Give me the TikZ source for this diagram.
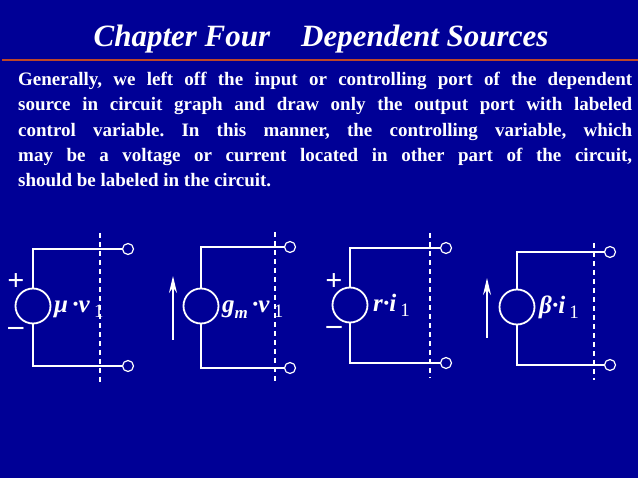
\documentclass[tikz,border=0pt]{standalone}
\usepackage{fontspec}
\setmainfont{Liberation Serif}
\usetikzlibrary{arrows.meta}
\definecolor{bg}{RGB}{0,0,150}
\definecolor{rule}{RGB}{190,70,40}
\tikzset{
 wire/.style={white,line width=1.8pt},
 dline/.style={white,line width=1.4pt,dash pattern=on 5pt off 4pt},
 src/.style={draw=white,line width=1.8pt,circle,minimum size=35pt,inner sep=0pt},
 term/.style={draw=white,line width=1.2pt,circle,fill=bg,minimum size=11pt,inner sep=0pt},
 lbl/.style={white,anchor=base west,font=\fontsize{25}{25}\selectfont,inner sep=0pt},
 sign/.style={white,font=\fontsize{30}{30}\selectfont\bfseries,inner sep=0pt},
 arr/.style={white,line width=1.6pt,-{Stealth[length=17pt,width=8pt]}}
}
\newcommand{\bi}[1]{\textbf{\textit{#1}}}
\newcommand{\sone}{\raisebox{-0.4ex}{\fontsize{19}{19}\selectfont 1}}
\begin{document}
\frenchspacing
\begin{tikzpicture}[x=1pt,y=-1pt]
\fill[bg] (0,0) rectangle (638,478);
\useasboundingbox (0,0) rectangle (638,478);
\node[white,font=\fontsize{31}{31}\selectfont\bfseries\itshape] (title) at (321,39) {Chapter Four\hspace{1em}Dependent Sources};
\coordinate (r1) at (2,60); \coordinate (r2) at (638,60);
\draw[rule,line width=1.8pt] (r1) -- (r2);
\node[white,anchor=north west,text width=614pt,align=justify,inner sep=0pt,
 font=\fontsize{19}{25.3}\selectfont\bfseries] (para) at (18,72) {Generally, we left off the input or controlling port of the dependent\linebreak source in circuit graph and draw only the output port with labeled\linebreak control variable. In this manner, the controlling variable, which\linebreak may be a voltage or current located in other part of the circuit,\linebreak should be labeled in the circuit.};
% circuit 1
\node[src] (s1) at (33,306) {};
\coordinate (a1) at (33,249); \coordinate (b1) at (33,366);
\node[term] (t1) at (128,249) {}; \node[term] (u1) at (128,366) {};
\draw[wire] (s1.north) -- (a1) -- (t1.west);
\draw[wire] (s1.south) -- (b1) -- (u1.west);
\coordinate (d1a) at (100,233); \coordinate (d1b) at (100,383);
\draw[dline] (d1a) -- (d1b);
\node[sign] (p1) at (16,282) {+}; \node[sign] (m1) at (16,331) {–};
\node[lbl] (l1) at (54,313) {\bi{μ}\,\bi{·}\bi{v}\,\sone};
% circuit 2
\node[src] (s2) at (201,306) {};
\coordinate (a2) at (201,247); \coordinate (b2) at (201,368);
\node[term] (t2) at (290,247) {}; \node[term] (u2) at (290,368) {};
\draw[wire] (s2.north) -- (a2) -- (t2.west);
\draw[wire] (s2.south) -- (b2) -- (u2.west);
\coordinate (d2a) at (275,232); \coordinate (d2b) at (275,383);
\draw[dline] (d2a) -- (d2b);
\coordinate (ar2a) at (173,340); \coordinate (ar2b) at (173,276);
\draw[arr] (ar2a) -- (ar2b);
\node[lbl] (l2) at (222,313) {\bi{g}\raisebox{-0.5ex}{\fontsize{17}{17}\selectfont\bi{m}}\,\bi{·}\bi{v}\,\sone};
% circuit 3
\node[src] (s3) at (350,305) {};
\coordinate (a3) at (350,248); \coordinate (b3) at (350,363);
\node[term] (t3) at (446,248) {}; \node[term] (u3) at (446,363) {};
\draw[wire] (s3.north) -- (a3) -- (t3.west);
\draw[wire] (s3.south) -- (b3) -- (u3.west);
\coordinate (d3a) at (430,233); \coordinate (d3b) at (430,378);
\draw[dline] (d3a) -- (d3b);
\node[sign] (p3) at (334,282) {+}; \node[sign] (m3) at (334,330) {–};
\node[lbl] (l3) at (373,312) {\bi{r}\bi{·}\bi{i}\,\sone};
% circuit 4
\node[src] (s4) at (517,307) {};
\coordinate (a4) at (517,252); \coordinate (b4) at (517,365);
\node[term] (t4) at (610,252) {}; \node[term] (u4) at (610,365) {};
\draw[wire] (s4.north) -- (a4) -- (t4.west);
\draw[wire] (s4.south) -- (b4) -- (u4.west);
\coordinate (d4a) at (594,243); \coordinate (d4b) at (594,380);
\draw[dline] (d4a) -- (d4b);
\coordinate (ar4a) at (487,338); \coordinate (ar4b) at (487,278);
\draw[arr] (ar4a) -- (ar4b);
\node[lbl] (l4) at (539,314) {\bi{β}\bi{·}\bi{i}\,\sone};
\end{tikzpicture}
\end{document}
